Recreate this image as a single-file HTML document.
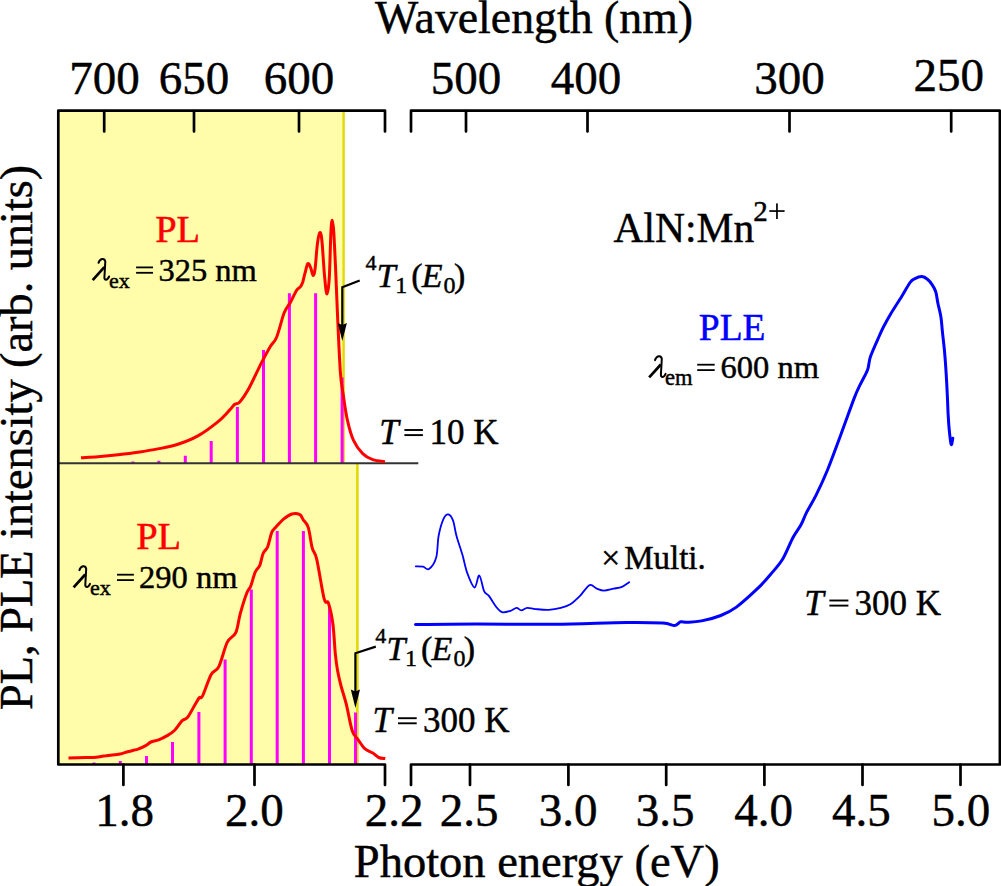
<!DOCTYPE html>
<html><head><meta charset="utf-8">
<style>
html,body{margin:0;padding:0;background:#fff;width:1001px;height:886px;overflow:hidden}
svg{display:block}
text{font-family:"Liberation Serif",serif;fill:#000;stroke:#000;stroke-width:0.45px}
</style></head>
<body>
<svg width="1001" height="886" viewBox="0 0 1001 886">
<!-- yellow fills -->
<rect x="58" y="111" width="285.6" height="352.5" fill="#FFFCAA"/>
<rect x="58" y="463" width="299.4" height="301.5" fill="#FFFCAA"/>
<line x1="343.6" y1="111" x2="343.6" y2="463.5" stroke="#E2DA00" stroke-width="2.4"/>
<line x1="357.4" y1="463" x2="357.4" y2="764.5" stroke="#E2DA00" stroke-width="2.6"/>

<!-- magenta bars -->
<g stroke="#FF00FF" stroke-width="3" fill="none">
<path d="M132.9,463V461.5 M158.9,463V460.8 M185.3,463V455.8 M211.2,463V440.9 M237.4,463V406.9 M263.5,463V350 M289.4,463V293.3 M315.6,463V293.3 M342.1,463V377.5"/>
<path d="M94,764V762.5 M120.3,764V761 M146.5,764V756 M172.5,764V742 M198.9,764V712 M225.1,764V659.4 M251.3,764V589.5 M277.2,764V531 M303.4,764V531 M329.5,764V607 M355.5,764V712.6"/>
</g>

<!-- middle line -->
<line x1="58" y1="463.2" x2="418.3" y2="463.2" stroke="#333333" stroke-width="2"/>

<!-- red PL curves -->
<g stroke="#FF0000" stroke-width="3" fill="none" stroke-linejoin="round" stroke-linecap="butt">
<path d="M81.0,457.8 C83.8,457.6 91.8,457.3 98.0,456.8 C104.2,456.3 111.3,455.6 118.0,454.8 C124.7,454.0 131.3,453.2 138.0,452.2 C144.7,451.2 151.2,450.2 157.9,448.9 C164.6,447.6 171.2,446.5 177.9,444.3 C184.6,442.1 191.2,439.6 197.9,435.9 C204.6,432.2 212.5,426.2 217.8,421.9 C223.1,417.6 227.0,412.8 229.8,409.9 C232.6,407.0 233.1,405.6 234.8,404.3 C236.5,403.0 237.4,404.6 239.8,401.9 C242.2,399.2 245.5,394.5 249.1,388.0 C252.7,381.5 257.7,370.1 261.3,363.1 C264.9,356.2 267.9,350.6 270.5,346.3 C273.1,342.0 274.3,342.8 276.6,337.2 C278.9,331.6 281.9,318.6 284.2,312.8 C286.5,307.0 288.7,305.3 290.3,302.5 C291.9,299.7 292.6,297.9 293.7,295.8 C294.8,293.7 296.0,291.1 297.1,289.6 C298.2,288.1 299.6,287.9 300.5,286.7 C301.4,285.5 301.9,284.4 302.7,282.2 C303.4,279.9 304.1,276.3 305.0,273.2 C305.9,270.1 306.9,264.5 307.8,263.6 C308.7,262.7 309.7,265.6 310.6,267.6 C311.5,269.6 312.4,275.3 313.1,275.5 C313.9,275.7 314.4,274.0 315.1,268.7 C315.8,263.4 316.6,249.9 317.4,243.9 C318.2,237.9 318.9,233.2 319.7,232.6 C320.4,232.0 321.1,233.0 321.9,240.5 C322.7,248.0 323.8,268.8 324.7,277.7 C325.6,286.6 326.2,294.1 327.0,294.1 C327.8,294.1 328.7,287.9 329.3,277.7 C329.9,267.4 330.4,242.2 330.9,232.6 C331.4,223.0 331.8,220.2 332.3,220.2 C332.8,220.2 333.3,224.9 333.8,232.6 C334.3,240.3 334.9,253.5 335.5,266.4 C336.1,279.3 336.5,292.5 337.3,310.0 C338.1,327.5 339.3,357.0 340.3,371.3 C341.3,385.6 342.2,387.6 343.4,395.7 C344.6,403.8 345.7,412.7 347.4,420.1 C349.1,427.6 350.9,434.8 353.5,440.4 C356.1,446.0 359.5,450.4 362.7,453.6 C365.9,456.8 369.1,458.4 372.8,459.7 C376.5,461.0 383.0,461.4 385.0,461.7"/>
<path d="M68.5,758.0 C71.4,757.9 81.4,757.6 86.0,757.5 C90.6,757.4 92.7,757.6 96.0,757.3 C99.3,757.0 102.0,756.3 106.0,755.8 C110.0,755.2 116.7,754.6 120.0,754.0 C123.3,753.4 123.0,753.0 126.0,752.2 C129.0,751.4 134.7,750.3 138.0,749.2 C141.3,748.1 143.8,746.7 146.0,745.5 C148.2,744.3 148.9,742.9 151.0,742.0 C153.1,741.1 155.9,741.0 158.6,739.9 C161.3,738.8 164.5,737.2 167.2,735.6 C169.9,734.0 172.2,732.7 174.7,730.2 C177.2,727.7 180.0,722.8 182.2,720.6 C184.3,718.5 185.4,720.0 187.6,717.3 C189.8,714.6 193.1,707.8 195.1,704.5 C197.1,701.2 198.2,699.0 199.4,697.6 C200.7,696.2 200.6,699.8 202.6,695.9 C204.6,692.0 208.5,679.2 211.2,674.4 C213.9,669.6 216.0,672.3 218.7,666.9 C221.4,661.5 224.5,647.9 227.3,642.2 C230.2,636.5 233.7,637.2 235.8,632.6 C237.9,628.0 238.3,620.9 240.1,614.3 C241.9,607.7 245.0,597.7 246.8,593.0 C248.6,588.3 249.3,589.8 250.7,586.3 C252.1,582.8 253.7,575.7 255.2,572.2 C256.7,568.7 258.5,568.5 259.8,565.4 C261.1,562.3 261.8,556.6 263.1,553.5 C264.4,550.4 266.3,550.3 267.7,546.8 C269.1,543.3 270.4,535.8 271.6,532.7 C272.8,529.6 273.0,530.4 275.0,528.1 C277.0,525.8 280.7,521.5 283.5,519.1 C286.3,516.8 289.2,514.8 291.9,514.0 C294.6,513.2 297.9,513.6 299.8,514.6 C301.7,515.6 301.8,517.5 303.2,519.7 C304.6,521.9 306.8,522.9 308.3,527.6 C309.8,532.3 310.8,542.6 312.2,547.9 C313.6,553.2 314.7,550.7 316.7,559.2 C318.7,567.7 322.2,591.4 324.1,598.7 C326.1,606.0 326.9,598.9 328.4,603.0 C329.8,607.1 331.6,614.7 332.8,623.3 C334.0,631.9 334.6,646.8 335.4,654.7 C336.2,662.6 336.6,665.4 337.6,670.8 C338.6,676.2 339.8,681.4 341.3,687.0 C342.8,692.6 344.6,697.3 346.4,704.6 C348.2,711.9 350.3,725.1 352.3,731.0 C354.3,736.9 356.1,736.8 358.2,739.8 C360.3,742.8 362.4,746.5 364.8,748.7 C367.2,750.9 370.6,751.6 372.9,753.1 C375.2,754.6 376.6,756.6 378.7,757.5 C380.8,758.4 384.2,758.4 385.3,758.6"/>
</g>

<!-- blue PLE curves -->
<g stroke="#0000FF" fill="none" stroke-linejoin="round" stroke-linecap="round">
<path stroke-width="1.8" d="M415.8,566.4 C417.0,566.5 420.8,566.3 423.0,566.7 C425.2,567.1 426.8,570.5 429.0,569.0 C431.2,567.5 434.6,563.0 436.2,557.5 C437.8,552.0 437.4,542.4 438.6,536.0 C439.8,529.6 441.8,522.8 443.4,519.2 C445.0,515.6 446.6,514.2 448.2,514.4 C449.8,514.6 451.6,516.8 453.0,520.4 C454.4,524.0 454.9,530.2 456.5,536.0 C458.1,541.8 460.7,548.9 462.5,555.1 C464.3,561.3 465.3,567.7 467.3,573.1 C469.3,578.5 472.5,587.1 474.5,587.5 C476.5,587.9 477.7,574.9 479.3,575.5 C480.9,576.1 482.5,587.7 484.1,591.1 C485.7,594.5 486.9,593.3 488.9,595.9 C490.9,598.5 493.9,604.0 496.1,606.7 C498.3,609.4 499.7,611.5 502.1,612.2 C504.5,612.9 508.1,611.5 510.5,610.8 C512.9,610.1 514.7,608.0 516.5,607.9 C518.3,607.8 519.5,610.3 521.3,610.3 C523.1,610.3 524.9,608.1 527.3,607.9 C529.7,607.7 532.1,608.8 535.7,609.1 C539.3,609.4 544.7,610.0 548.9,609.8 C553.1,609.6 557.2,608.8 560.8,607.9 C564.4,607.0 567.2,606.3 570.4,604.3 C573.6,602.3 576.8,599.1 580.0,595.9 C583.2,592.7 586.8,586.3 589.6,585.1 C592.4,583.9 594.4,587.8 596.8,588.7 C599.2,589.6 601.2,590.6 604.0,590.6 C606.8,590.6 610.6,589.3 613.6,588.7 C616.6,588.1 619.4,587.9 622.0,586.8 C624.6,585.7 628.0,583.0 629.2,582.2"/>
<path stroke-width="3" d="M415.5,624.6 C425.7,624.5 453.7,624.0 476.9,624.0 C500.1,624.0 529.8,624.5 554.8,624.3 C579.8,624.0 608.8,622.7 626.8,622.5 C644.8,622.3 654.7,622.6 662.7,623.1 C670.7,623.6 671.7,625.7 674.7,625.5 C677.7,625.3 678.6,622.3 680.7,621.8 C682.8,621.3 683.7,622.4 687.2,622.3 C690.7,622.1 696.0,622.0 701.6,620.9 C707.2,619.8 715.0,617.8 720.8,615.5 C726.6,613.2 730.4,611.5 736.4,607.1 C742.4,602.7 751.2,594.6 756.9,589.2 C762.6,583.8 766.2,579.6 770.5,574.5 C774.8,569.4 779.1,564.9 782.9,558.7 C786.6,552.5 790.0,543.1 793.0,537.5 C796.0,531.9 798.7,529.0 801.0,524.8 C803.3,520.6 804.1,517.3 806.6,512.4 C809.1,507.4 812.6,502.1 816.1,495.1 C819.6,488.1 823.2,480.5 827.4,470.3 C831.5,460.1 836.5,446.3 841.0,434.2 C845.5,422.1 851.2,405.9 854.4,397.6 C857.6,389.3 858.1,389.0 860.3,384.4 C862.5,379.8 865.9,374.3 867.6,369.7 C869.3,365.1 868.5,362.1 870.5,356.5 C872.5,350.9 877.1,341.0 879.3,336.0 C881.5,331.0 881.7,330.3 883.7,326.5 C885.7,322.7 888.4,317.8 891.1,313.3 C893.8,308.8 896.7,304.4 899.9,299.3 C903.1,294.2 907.7,285.9 910.1,282.5 C912.5,279.1 912.5,279.8 914.5,278.8 C916.5,277.8 919.7,276.5 921.9,276.6 C924.1,276.7 926.0,278.1 927.7,279.5 C929.4,280.9 930.8,282.6 932.1,284.7 C933.5,286.8 934.8,288.8 935.8,292.0 C936.8,295.2 937.1,299.6 938.0,303.7 C938.9,307.8 940.2,312.2 940.9,316.9 C941.6,321.5 941.8,325.7 942.4,331.6 C943.0,337.5 944.0,345.2 944.6,352.1 C945.2,359.0 945.6,364.9 946.1,372.7 C946.6,380.5 947.2,392.3 947.5,399.1 C947.8,405.9 947.8,408.6 948.1,413.7 C948.4,418.8 948.7,424.4 949.2,429.5 C949.7,434.6 950.6,443.1 951.2,444.5 C951.8,445.9 952.5,439.2 952.8,438.2"/>
</g>

<!-- axes -->
<g stroke="#000" stroke-width="2.7" fill="none" stroke-linecap="round" stroke-linejoin="round">
<path d="M385,131.5 V110.7 H58.3 V764.5 H385 V785"/>
<path d="M411,131.5 V110.7 H999.9 V764.5 H411 V785"/>
<path d="M104.2,111V131.5 M194,111V131.5 M299,111V131.5 M466,111V131.5 M587.5,111V131.5 M789.5,111V131.5 M951.2,111V131.5"/>
<path d="M123.4,764.5V785 M254.5,764.5V785 M470,764.5V785 M568.4,764.5V785 M666.2,764.5V785 M764.4,764.5V785 M862.5,764.5V785 M960.5,764.5V785"/>
</g>

<!-- arrows -->
<g stroke="#000" stroke-width="2.2" fill="none">
<path d="M359.7,280.5 L342.3,287.3 V330"/>
<path d="M375.8,646.6 L355.4,653.2 V697"/>
</g>
<path d="M337.7,323 L342.3,341 L346.9,323 L342.3,325 Z" fill="#000"/>
<path d="M350.8,689.5 L355.4,708 L360,689.5 L355.4,691.5 Z" fill="#000"/>

<!-- axis titles -->
<text x="375" y="33" font-size="45.8">Wavelength (nm)</text>
<text x="353.8" y="876.5" font-size="46.5">Photon energy (eV)</text>
<text transform="translate(32.4,708.6) rotate(-90)" x="-1.4" y="0" font-size="46.3">PL, PLE intensity (arb. units)</text>

<!-- tick labels top -->
<g font-size="47" text-anchor="middle">
<text x="104.5" y="93.5">700</text>
<text x="194" y="93.5">650</text>
<text x="299" y="93.5">600</text>
<text x="466" y="93.5">500</text>
<text x="586" y="93.5">400</text>
<text x="789.5" y="93.5">300</text>
<text x="948.8" y="91.2">250</text>
</g>
<g font-size="47" text-anchor="middle">
<text x="124.6" y="825.8">1.8</text>
<text x="254.4" y="825.8">2.0</text>
<text x="394" y="825.8">2.2</text>
<text x="469" y="825.8">2.5</text>
<text x="568" y="825.8">3.0</text>
<text x="665" y="825.8">3.5</text>
<text x="763.6" y="825.8">4.0</text>
<text x="861.3" y="825.8">4.5</text>
<text x="960.8" y="825.8">5.0</text>
</g>

<!-- annotations -->
<text x="155.2" y="241.8" font-size="38.5" style="fill:#FF0000;stroke:#FF0000">PL</text>
<text x="136.2" y="549" font-size="38.5" style="fill:#FF0000;stroke:#FF0000">PL</text>
<text x="698.8" y="339.6" font-size="37.5" style="fill:#0000FF;stroke:#0000FF">PLE</text>


<g fill="#000">
<g transform="translate(91.5,281)" fill="none" stroke="#000" stroke-linecap="round">
<path d="M7,-18.2 C8.5,-22.5 12.8,-23.5 13.8,-19.5 L12.9,-3.5 C13,-0.8 15.5,0 17.6,-4.5" stroke-width="2"/>
<path d="M12.8,-13.8 L1.2,-0.9" stroke-width="2.7" stroke-linecap="butt"/>
</g>
<g transform="translate(72.4,588.3)" fill="none" stroke="#000" stroke-linecap="round">
<path d="M7,-18.2 C8.5,-22.5 12.8,-23.5 13.8,-19.5 L12.9,-3.5 C13,-0.8 15.5,0 17.6,-4.5" stroke-width="2"/>
<path d="M12.8,-13.8 L1.2,-0.9" stroke-width="2.7" stroke-linecap="butt"/>
</g>
<g transform="translate(648,378.3)" fill="none" stroke="#000" stroke-linecap="round">
<path d="M7,-18.2 C8.5,-22.5 12.8,-23.5 13.8,-19.5 L12.9,-3.5 C13,-0.8 15.5,0 17.6,-4.5" stroke-width="2"/>
<path d="M12.8,-13.8 L1.2,-0.9" stroke-width="2.7" stroke-linecap="butt"/>
</g>
<rect x="136.1" y="266.5" width="16.9" height="1.8"/><rect x="136.1" y="271.9" width="16.9" height="1.8"/>
<rect x="117" y="573.8" width="16.9" height="1.8"/><rect x="117" y="579.2" width="16.9" height="1.8"/>
<rect x="697.2" y="363.8" width="17.5" height="1.8"/><rect x="697.2" y="369.2" width="17.5" height="1.8"/>
<rect x="404.4" y="429.05" width="18.5" height="1.9"/><rect x="404.4" y="434.15" width="18.5" height="1.9"/>
<rect x="398" y="717.25" width="18.7" height="1.9"/><rect x="398" y="722.35" width="18.7" height="1.9"/>
<rect x="829.4" y="599.55" width="19" height="1.9"/><rect x="829.4" y="604.65" width="19" height="1.9"/>
</g>

<g font-size="32.5">
<text x="109.1" y="287.5" font-size="22">ex</text>
<text x="158.4" y="281">325 nm</text>
<text x="90" y="594.8" font-size="22">ex</text>
<text x="139" y="588.3">290 nm</text>
<text x="665.1" y="385" font-size="22.5">em</text>
<text x="720.5" y="378.3">600 nm</text>
</g>

<text x="613.6" y="241.5" font-size="41.5">AlN:Mn</text>
<text x="753.3" y="220.6" font-size="29">2</text>
<rect x="769.3" y="210.2" width="15.3" height="1.7" fill="#000"/><rect x="776.1" y="203.4" width="1.7" height="15.6" fill="#000"/>

<text x="601.3" y="569" font-size="33.5">×</text>
<text x="624.2" y="569" font-size="33">Multi.</text>

<g font-size="35">
<text x="379.2" y="444" font-style="italic">T</text>
<text x="429.6" y="444">10 K</text>
<text x="372.4" y="732.3" font-style="italic">T</text>
<text x="423" y="732.3">300 K</text>
<text x="804.2" y="614.5" font-style="italic">T</text>
<text x="854.4" y="614.5">300 K</text>
</g>

<g>
<text x="365.5" y="270.3" font-size="22">4</text>
<text x="376.8" y="287.4" font-size="34" font-style="italic">T</text>
<text x="395.3" y="293.4" font-size="24">1</text>
<text x="411.3" y="287.4" font-size="34">(</text>
<text x="421.8" y="287.4" font-size="34" font-style="italic">E</text>
<text x="443.6" y="293.4" font-size="24">0</text>
<text x="454" y="287.4" font-size="34">)</text>
</g>
<g transform="translate(9.8,373)">
<text x="365.5" y="270.3" font-size="22">4</text>
<text x="376.8" y="287.4" font-size="34" font-style="italic">T</text>
<text x="395.3" y="293.4" font-size="24">1</text>
<text x="411.3" y="287.4" font-size="34">(</text>
<text x="421.8" y="287.4" font-size="34" font-style="italic">E</text>
<text x="443.6" y="293.4" font-size="24">0</text>
<text x="454" y="287.4" font-size="34">)</text>
</g>
</svg>
</body></html>
